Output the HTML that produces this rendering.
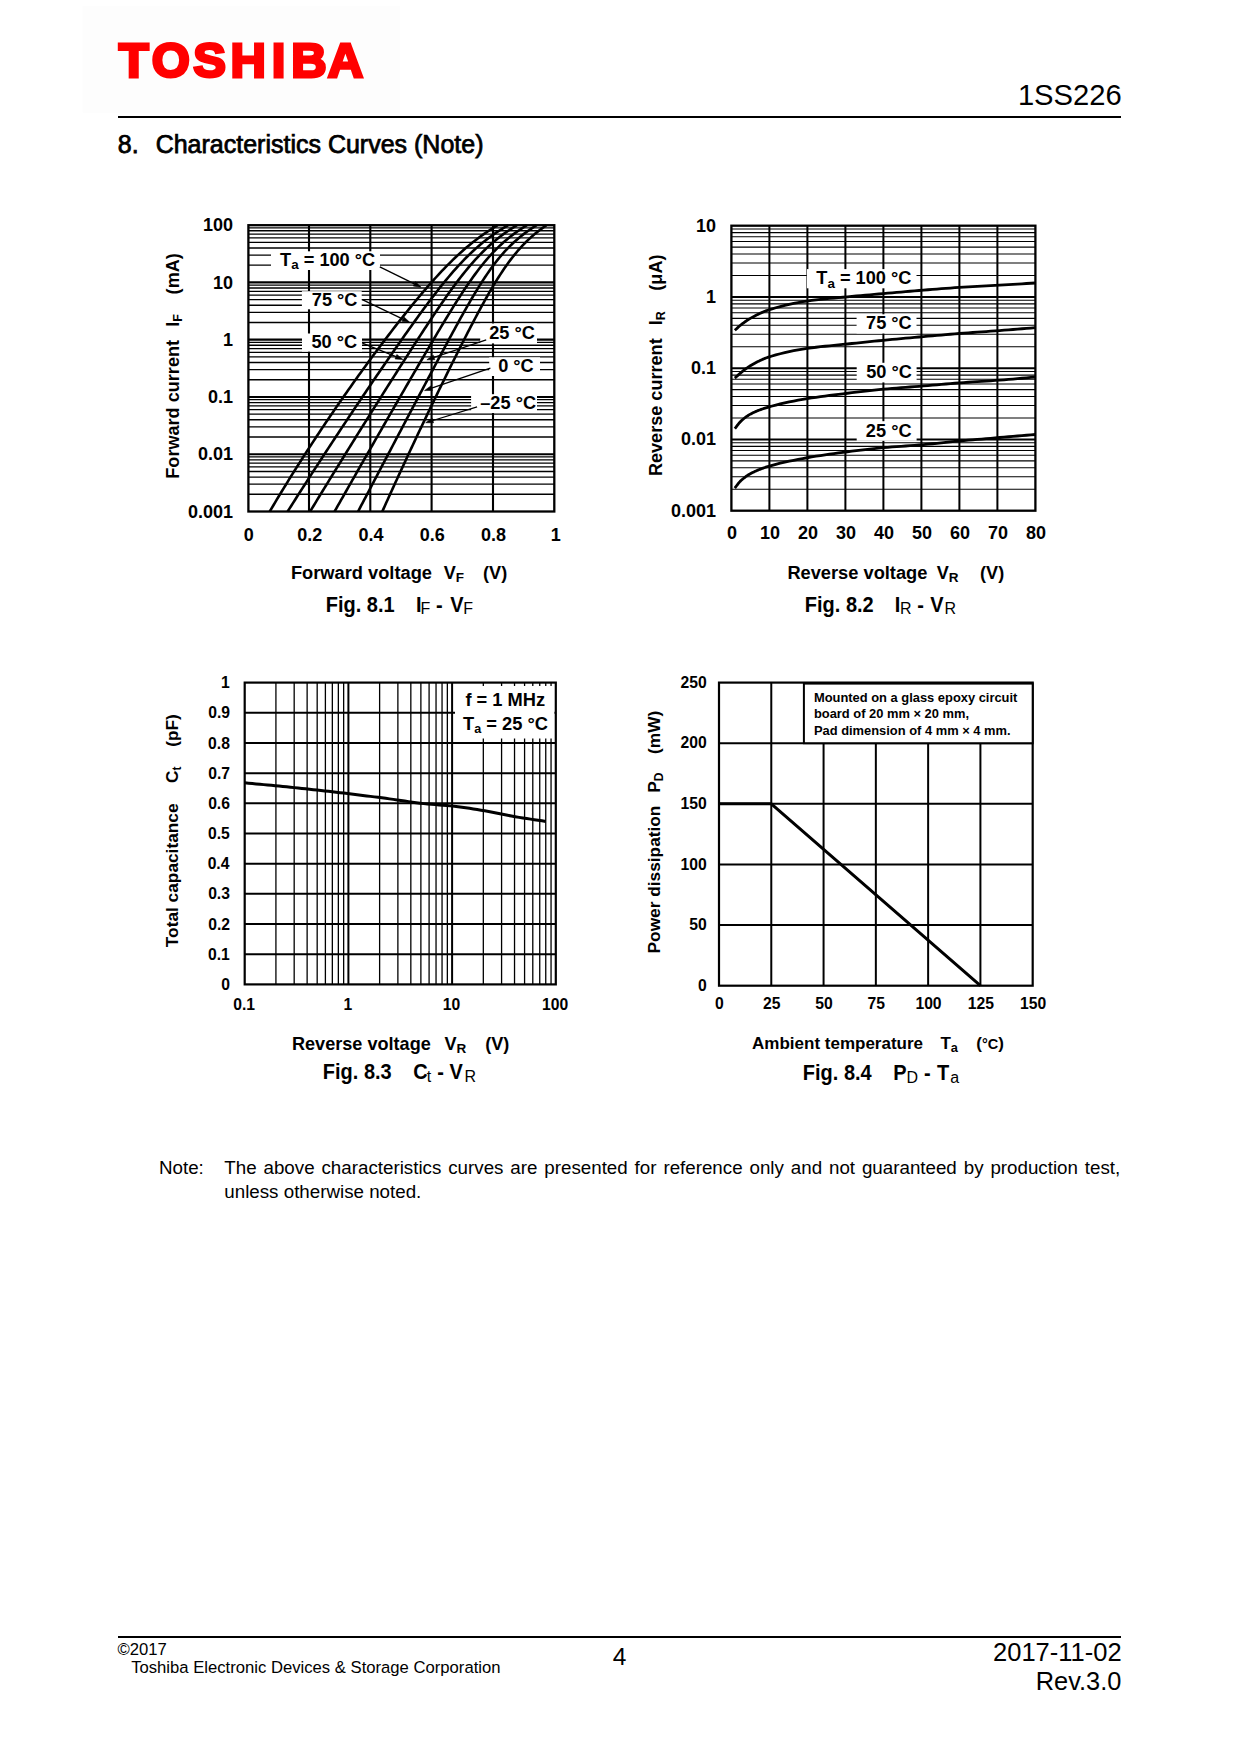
<!DOCTYPE html>
<html><head><meta charset="utf-8"><title>1SS226 - Characteristics Curves</title>
<style>
html,body{margin:0;padding:0;background:#fff;}
body{width:1240px;height:1754px;position:relative;overflow:hidden;}
svg{position:absolute;left:0;top:0;}
svg text{font-family:'Liberation Sans', Arial, sans-serif;}
.note{position:absolute;font-family:'Liberation Sans', Arial, sans-serif;font-size:18.75px;line-height:24.2px;color:#000;}
</style></head>
<body>
<svg width="1240" height="1754" viewBox="0 0 1240 1754">
<rect x="82.6" y="5.8" width="317.7" height="107" fill="#fdfdfd"/>
<text><tspan x="1017.88" y="104.80" font-size="29.17" font-weight="normal">1SS226</tspan></text>
<line x1="118.00" y1="117.00" x2="1121.00" y2="117.00" stroke="#000" stroke-width="2.0"/>
<text stroke="#000" stroke-width="0.75"><tspan x="117.81" y="152.60" font-size="25" font-weight="normal">8.</tspan></text>
<text stroke="#000" stroke-width="0.75"><tspan x="155.63" y="152.60" font-size="25" font-weight="normal">Characteristics Curves (Note)</tspan></text>
<line x1="118.00" y1="1637.00" x2="1121.00" y2="1637.00" stroke="#000" stroke-width="2.0"/>
<text><tspan x="117.45" y="1654.80" font-size="16.67" font-weight="normal">©2017</tspan></text>
<text><tspan x="131.13" y="1673.40" font-size="16.67" font-weight="normal">Toshiba Electronic Devices &amp; Storage Corporation</tspan></text>
<text><tspan x="612.64" y="1664.70" font-size="24.5" font-weight="normal">4</tspan></text>
<text><tspan x="993.04" y="1660.80" font-size="25.5" font-weight="normal">2017-11-02</tspan></text>
<text><tspan x="1035.76" y="1689.50" font-size="25.4" font-weight="normal">Rev.3.0</tspan></text>
<text fill="#ff0000" stroke="#ff0000" stroke-width="3" stroke-linejoin="miter"><tspan x="118.73" y="77.00" font-size="49.0" font-weight="bold">T</tspan></text>
<text fill="#ff0000" stroke="#ff0000" stroke-width="3" stroke-linejoin="miter"><tspan x="151.64" y="77.00" font-size="49.0" font-weight="bold">O</tspan></text>
<text fill="#ff0000" stroke="#ff0000" stroke-width="3" stroke-linejoin="miter"><tspan x="193.26" y="77.00" font-size="49.0" font-weight="bold">S</tspan></text>
<text fill="#ff0000" stroke="#ff0000" stroke-width="3" stroke-linejoin="miter"><tspan x="230.56" y="77.00" font-size="49.0" font-weight="bold">H</tspan></text>
<text fill="#ff0000" stroke="#ff0000" stroke-width="3" stroke-linejoin="miter"><tspan x="271.84" y="77.00" font-size="49.0" font-weight="bold">I</tspan></text>
<text fill="#ff0000" stroke="#ff0000" stroke-width="3" stroke-linejoin="miter"><tspan x="291.21" y="77.00" font-size="49.0" font-weight="bold">B</tspan></text>
<text fill="#ff0000" stroke="#ff0000" stroke-width="3" stroke-linejoin="miter"><tspan x="327.86" y="77.00" font-size="49.0" font-weight="bold">A</tspan></text>
<line x1="248.40" y1="494.26" x2="554.30" y2="494.26" stroke="#000" stroke-width="1.3"/>
<line x1="248.40" y1="484.18" x2="554.30" y2="484.18" stroke="#000" stroke-width="1.3"/>
<line x1="248.40" y1="477.03" x2="554.30" y2="477.03" stroke="#000" stroke-width="1.3"/>
<line x1="248.40" y1="471.48" x2="554.30" y2="471.48" stroke="#000" stroke-width="1.3"/>
<line x1="248.40" y1="466.94" x2="554.30" y2="466.94" stroke="#000" stroke-width="1.3"/>
<line x1="248.40" y1="463.11" x2="554.30" y2="463.11" stroke="#000" stroke-width="1.3"/>
<line x1="248.40" y1="459.79" x2="554.30" y2="459.79" stroke="#000" stroke-width="1.3"/>
<line x1="248.40" y1="456.86" x2="554.30" y2="456.86" stroke="#000" stroke-width="1.3"/>
<line x1="248.40" y1="437.00" x2="554.30" y2="437.00" stroke="#000" stroke-width="1.3"/>
<line x1="248.40" y1="426.92" x2="554.30" y2="426.92" stroke="#000" stroke-width="1.3"/>
<line x1="248.40" y1="419.77" x2="554.30" y2="419.77" stroke="#000" stroke-width="1.3"/>
<line x1="248.40" y1="414.22" x2="554.30" y2="414.22" stroke="#000" stroke-width="1.3"/>
<line x1="248.40" y1="409.68" x2="554.30" y2="409.68" stroke="#000" stroke-width="1.3"/>
<line x1="248.40" y1="405.85" x2="554.30" y2="405.85" stroke="#000" stroke-width="1.3"/>
<line x1="248.40" y1="402.53" x2="554.30" y2="402.53" stroke="#000" stroke-width="1.3"/>
<line x1="248.40" y1="399.60" x2="554.30" y2="399.60" stroke="#000" stroke-width="1.3"/>
<line x1="248.40" y1="379.74" x2="554.30" y2="379.74" stroke="#000" stroke-width="1.3"/>
<line x1="248.40" y1="369.66" x2="554.30" y2="369.66" stroke="#000" stroke-width="1.3"/>
<line x1="248.40" y1="362.51" x2="554.30" y2="362.51" stroke="#000" stroke-width="1.3"/>
<line x1="248.40" y1="356.96" x2="554.30" y2="356.96" stroke="#000" stroke-width="1.3"/>
<line x1="248.40" y1="352.42" x2="554.30" y2="352.42" stroke="#000" stroke-width="1.3"/>
<line x1="248.40" y1="348.59" x2="554.30" y2="348.59" stroke="#000" stroke-width="1.3"/>
<line x1="248.40" y1="345.27" x2="554.30" y2="345.27" stroke="#000" stroke-width="1.3"/>
<line x1="248.40" y1="342.34" x2="554.30" y2="342.34" stroke="#000" stroke-width="1.3"/>
<line x1="248.40" y1="322.48" x2="554.30" y2="322.48" stroke="#000" stroke-width="1.3"/>
<line x1="248.40" y1="312.40" x2="554.30" y2="312.40" stroke="#000" stroke-width="1.3"/>
<line x1="248.40" y1="305.25" x2="554.30" y2="305.25" stroke="#000" stroke-width="1.3"/>
<line x1="248.40" y1="299.70" x2="554.30" y2="299.70" stroke="#000" stroke-width="1.3"/>
<line x1="248.40" y1="295.16" x2="554.30" y2="295.16" stroke="#000" stroke-width="1.3"/>
<line x1="248.40" y1="291.33" x2="554.30" y2="291.33" stroke="#000" stroke-width="1.3"/>
<line x1="248.40" y1="288.01" x2="554.30" y2="288.01" stroke="#000" stroke-width="1.3"/>
<line x1="248.40" y1="285.08" x2="554.30" y2="285.08" stroke="#000" stroke-width="1.3"/>
<line x1="248.40" y1="265.22" x2="554.30" y2="265.22" stroke="#000" stroke-width="1.3"/>
<line x1="248.40" y1="255.14" x2="554.30" y2="255.14" stroke="#000" stroke-width="1.3"/>
<line x1="248.40" y1="247.99" x2="554.30" y2="247.99" stroke="#000" stroke-width="1.3"/>
<line x1="248.40" y1="242.44" x2="554.30" y2="242.44" stroke="#000" stroke-width="1.3"/>
<line x1="248.40" y1="237.90" x2="554.30" y2="237.90" stroke="#000" stroke-width="1.3"/>
<line x1="248.40" y1="234.07" x2="554.30" y2="234.07" stroke="#000" stroke-width="1.3"/>
<line x1="248.40" y1="230.75" x2="554.30" y2="230.75" stroke="#000" stroke-width="1.3"/>
<line x1="248.40" y1="227.82" x2="554.30" y2="227.82" stroke="#000" stroke-width="1.3"/>
<line x1="248.40" y1="454.24" x2="554.30" y2="454.24" stroke="#000" stroke-width="2.2"/>
<line x1="248.40" y1="396.98" x2="554.30" y2="396.98" stroke="#000" stroke-width="2.2"/>
<line x1="248.40" y1="339.72" x2="554.30" y2="339.72" stroke="#000" stroke-width="2.2"/>
<line x1="248.40" y1="282.46" x2="554.30" y2="282.46" stroke="#000" stroke-width="2.2"/>
<line x1="309.00" y1="225.20" x2="309.00" y2="511.50" stroke="#000" stroke-width="2.1"/>
<line x1="370.30" y1="225.20" x2="370.30" y2="511.50" stroke="#000" stroke-width="2.1"/>
<line x1="431.60" y1="225.20" x2="431.60" y2="511.50" stroke="#000" stroke-width="2.1"/>
<line x1="493.00" y1="225.20" x2="493.00" y2="511.50" stroke="#000" stroke-width="2.1"/>
<path d="M269.72,511.50 L271.43,508.61 L273.14,505.72 L274.87,502.82 L276.60,499.93 L278.34,497.04 L280.09,494.15 L281.84,491.26 L283.61,488.36 L285.38,485.47 L287.16,482.58 L288.94,479.69 L290.74,476.80 L292.54,473.91 L294.35,471.01 L296.17,468.12 L298.00,465.23 L299.83,462.34 L301.67,459.45 L303.52,456.55 L305.38,453.66 L307.25,450.77 L309.12,447.88 L311.00,444.99 L312.89,442.09 L314.79,439.20 L316.69,436.31 L318.61,433.42 L320.53,430.53 L322.45,427.63 L324.39,424.74 L326.34,421.85 L328.29,418.96 L330.25,416.07 L332.22,413.17 L334.20,410.28 L336.18,407.39 L338.17,404.50 L340.17,401.61 L342.18,398.72 L344.20,395.82 L346.22,392.93 L348.26,390.04 L350.30,387.15 L352.35,384.26 L354.41,381.36 L356.47,378.47 L358.55,375.58 L360.63,372.69 L362.72,369.80 L364.83,366.90 L366.94,364.01 L369.05,361.12 L371.18,358.23 L373.32,355.34 L375.46,352.44 L377.62,349.55 L379.78,346.66 L381.96,343.77 L384.15,340.88 L386.34,337.98 L388.55,335.09 L390.77,332.20 L393.00,329.31 L395.24,326.42 L397.49,323.53 L399.76,320.63 L402.04,317.74 L404.34,314.85 L406.65,311.96 L408.98,309.07 L411.32,306.17 L413.69,303.28 L416.07,300.39 L418.48,297.50 L420.91,294.61 L423.36,291.71 L425.84,288.82 L428.35,285.93 L430.90,283.04 L433.47,280.15 L436.09,277.25 L438.75,274.36 L441.46,271.47 L444.21,268.58 L447.03,265.69 L449.90,262.79 L452.85,259.90 L455.87,257.01 L458.98,254.12 L462.19,251.23 L465.50,248.34 L468.93,245.44 L472.49,242.55 L476.20,239.66 L480.07,236.77 L484.12,233.88 L488.39,230.98 L492.88,228.09 L497.63,225.20" fill="none" stroke="#000" stroke-width="2.6" stroke-linejoin="round" stroke-linecap="butt"/>
<path d="M287.63,511.50 L289.46,508.61 L291.30,505.72 L293.13,502.82 L294.97,499.93 L296.81,497.04 L298.66,494.15 L300.51,491.26 L302.36,488.36 L304.21,485.47 L306.07,482.58 L307.93,479.69 L309.79,476.80 L311.65,473.91 L313.52,471.01 L315.39,468.12 L317.27,465.23 L319.14,462.34 L321.02,459.45 L322.91,456.55 L324.79,453.66 L326.68,450.77 L328.57,447.88 L330.46,444.99 L332.36,442.09 L334.26,439.20 L336.17,436.31 L338.07,433.42 L339.98,430.53 L341.89,427.63 L343.81,424.74 L345.73,421.85 L347.65,418.96 L349.57,416.07 L351.50,413.17 L353.43,410.28 L355.36,407.39 L357.30,404.50 L359.24,401.61 L361.18,398.72 L363.13,395.82 L365.08,392.93 L367.03,390.04 L368.98,387.15 L370.94,384.26 L372.91,381.36 L374.87,378.47 L376.84,375.58 L378.82,372.69 L380.79,369.80 L382.77,366.90 L384.76,364.01 L386.75,361.12 L388.74,358.23 L390.74,355.34 L392.74,352.44 L394.75,349.55 L396.77,346.66 L398.79,343.77 L400.81,340.88 L402.84,337.98 L404.88,335.09 L406.92,332.20 L408.97,329.31 L411.03,326.42 L413.10,323.53 L415.18,320.63 L417.27,317.74 L419.37,314.85 L421.48,311.96 L423.61,309.07 L425.74,306.17 L427.90,303.28 L430.07,300.39 L432.27,297.50 L434.48,294.61 L436.72,291.71 L438.99,288.82 L441.28,285.93 L443.61,283.04 L445.97,280.15 L448.37,277.25 L450.82,274.36 L453.32,271.47 L455.88,268.58 L458.50,265.69 L461.18,262.79 L463.95,259.90 L466.80,257.01 L469.76,254.12 L472.82,251.23 L476.00,248.34 L479.33,245.44 L482.80,242.55 L486.45,239.66 L490.30,236.77 L494.36,233.88 L498.67,230.98 L503.25,228.09 L508.14,225.20" fill="none" stroke="#000" stroke-width="2.6" stroke-linejoin="round" stroke-linecap="butt"/>
<path d="M310.10,511.50 L311.86,508.61 L313.63,505.72 L315.39,502.82 L317.16,499.93 L318.92,497.04 L320.69,494.15 L322.46,491.26 L324.23,488.36 L326.01,485.47 L327.78,482.58 L329.56,479.69 L331.33,476.80 L333.11,473.91 L334.89,471.01 L336.67,468.12 L338.46,465.23 L340.24,462.34 L342.03,459.45 L343.81,456.55 L345.60,453.66 L347.39,450.77 L349.19,447.88 L350.98,444.99 L352.77,442.09 L354.57,439.20 L356.37,436.31 L358.17,433.42 L359.97,430.53 L361.77,427.63 L363.58,424.74 L365.38,421.85 L367.19,418.96 L369.00,416.07 L370.81,413.17 L372.62,410.28 L374.44,407.39 L376.25,404.50 L378.07,401.61 L379.89,398.72 L381.71,395.82 L383.53,392.93 L385.36,390.04 L387.18,387.15 L389.01,384.26 L390.84,381.36 L392.68,378.47 L394.51,375.58 L396.35,372.69 L398.19,369.80 L400.03,366.90 L401.88,364.01 L403.72,361.12 L405.57,358.23 L407.43,355.34 L409.28,352.44 L411.14,349.55 L413.01,346.66 L414.88,343.77 L416.75,340.88 L418.63,337.98 L420.51,335.09 L422.40,332.20 L424.29,329.31 L426.19,326.42 L428.10,323.53 L430.02,320.63 L431.94,317.74 L433.88,314.85 L435.82,311.96 L437.78,309.07 L439.75,306.17 L441.74,303.28 L443.74,300.39 L445.76,297.50 L447.80,294.61 L449.87,291.71 L451.95,288.82 L454.07,285.93 L456.22,283.04 L458.40,280.15 L460.62,277.25 L462.89,274.36 L465.21,271.47 L467.58,268.58 L470.01,265.69 L472.51,262.79 L475.09,259.90 L477.75,257.01 L480.52,254.12 L483.39,251.23 L486.38,248.34 L489.52,245.44 L492.80,242.55 L496.26,239.66 L499.91,236.77 L503.78,233.88 L507.90,230.98 L512.29,228.09 L516.98,225.20" fill="none" stroke="#000" stroke-width="2.6" stroke-linejoin="round" stroke-linecap="butt"/>
<path d="M334.58,511.50 L336.22,508.61 L337.86,505.72 L339.50,502.82 L341.14,499.93 L342.79,497.04 L344.43,494.15 L346.08,491.26 L347.72,488.36 L349.37,485.47 L351.01,482.58 L352.66,479.69 L354.31,476.80 L355.95,473.91 L357.60,471.01 L359.25,468.12 L360.90,465.23 L362.55,462.34 L364.20,459.45 L365.86,456.55 L367.51,453.66 L369.16,450.77 L370.82,447.88 L372.47,444.99 L374.13,442.09 L375.79,439.20 L377.44,436.31 L379.10,433.42 L380.76,430.53 L382.42,427.63 L384.08,424.74 L385.74,421.85 L387.40,418.96 L389.07,416.07 L390.73,413.17 L392.39,410.28 L394.06,407.39 L395.73,404.50 L397.39,401.61 L399.06,398.72 L400.73,395.82 L402.40,392.93 L404.07,390.04 L405.74,387.15 L407.42,384.26 L409.09,381.36 L410.77,378.47 L412.45,375.58 L414.13,372.69 L415.81,369.80 L417.49,366.90 L419.17,364.01 L420.86,361.12 L422.55,358.23 L424.24,355.34 L425.93,352.44 L427.63,349.55 L429.33,346.66 L431.03,343.77 L432.74,340.88 L434.45,337.98 L436.17,335.09 L437.89,332.20 L439.61,329.31 L441.34,326.42 L443.08,323.53 L444.83,320.63 L446.59,317.74 L448.35,314.85 L450.13,311.96 L451.91,309.07 L453.71,306.17 L455.53,303.28 L457.36,300.39 L459.21,297.50 L461.08,294.61 L462.97,291.71 L464.89,288.82 L466.84,285.93 L468.81,283.04 L470.83,280.15 L472.88,277.25 L474.99,274.36 L477.14,271.47 L479.35,268.58 L481.62,265.69 L483.96,262.79 L486.39,259.90 L488.90,257.01 L491.52,254.12 L494.25,251.23 L497.11,248.34 L500.11,245.44 L503.28,242.55 L506.62,239.66 L510.17,236.77 L513.94,233.88 L517.98,230.98 L522.30,228.09 L526.94,225.20" fill="none" stroke="#000" stroke-width="2.6" stroke-linejoin="round" stroke-linecap="butt"/>
<path d="M358.09,511.50 L359.61,508.61 L361.12,505.72 L362.64,502.82 L364.16,499.93 L365.68,497.04 L367.20,494.15 L368.72,491.26 L370.24,488.36 L371.76,485.47 L373.28,482.58 L374.80,479.69 L376.32,476.80 L377.84,473.91 L379.36,471.01 L380.88,468.12 L382.40,465.23 L383.92,462.34 L385.44,459.45 L386.96,456.55 L388.48,453.66 L390.01,450.77 L391.53,447.88 L393.05,444.99 L394.57,442.09 L396.09,439.20 L397.62,436.31 L399.14,433.42 L400.66,430.53 L402.19,427.63 L403.71,424.74 L405.24,421.85 L406.76,418.96 L408.29,416.07 L409.81,413.17 L411.34,410.28 L412.86,407.39 L414.39,404.50 L415.92,401.61 L417.44,398.72 L418.97,395.82 L420.50,392.93 L422.03,390.04 L423.56,387.15 L425.09,384.26 L426.62,381.36 L428.15,378.47 L429.68,375.58 L431.22,372.69 L432.75,369.80 L434.29,366.90 L435.83,364.01 L437.37,361.12 L438.91,358.23 L440.45,355.34 L442.00,352.44 L443.54,349.55 L445.09,346.66 L446.65,343.77 L448.20,340.88 L449.76,337.98 L451.33,335.09 L452.90,332.20 L454.47,329.31 L456.05,326.42 L457.64,323.53 L459.23,320.63 L460.84,317.74 L462.45,314.85 L464.07,311.96 L465.70,309.07 L467.35,306.17 L469.01,303.28 L470.68,300.39 L472.38,297.50 L474.10,294.61 L475.83,291.71 L477.60,288.82 L479.39,285.93 L481.22,283.04 L483.08,280.15 L484.98,277.25 L486.93,274.36 L488.93,271.47 L490.99,268.58 L493.11,265.69 L495.31,262.79 L497.59,259.90 L499.96,257.01 L502.43,254.12 L505.02,251.23 L507.74,248.34 L510.61,245.44 L513.65,242.55 L516.86,239.66 L520.29,236.77 L523.95,233.88 L527.87,230.98 L532.08,228.09 L536.63,225.20" fill="none" stroke="#000" stroke-width="2.6" stroke-linejoin="round" stroke-linecap="butt"/>
<path d="M382.31,511.50 L383.61,508.61 L384.91,505.72 L386.21,502.82 L387.52,499.93 L388.83,497.04 L390.14,494.15 L391.46,491.26 L392.77,488.36 L394.09,485.47 L395.41,482.58 L396.74,479.69 L398.07,476.80 L399.39,473.91 L400.73,471.01 L402.06,468.12 L403.40,465.23 L404.74,462.34 L406.08,459.45 L407.42,456.55 L408.77,453.66 L410.12,450.77 L411.47,447.88 L412.83,444.99 L414.19,442.09 L415.54,439.20 L416.91,436.31 L418.27,433.42 L419.64,430.53 L421.01,427.63 L422.38,424.74 L423.76,421.85 L425.14,418.96 L426.52,416.07 L427.90,413.17 L429.29,410.28 L430.67,407.39 L432.06,404.50 L433.46,401.61 L434.86,398.72 L436.26,395.82 L437.66,392.93 L439.06,390.04 L440.47,387.15 L441.88,384.26 L443.30,381.36 L444.71,378.47 L446.13,375.58 L447.56,372.69 L448.98,369.80 L450.41,366.90 L451.85,364.01 L453.29,361.12 L454.73,358.23 L456.17,355.34 L457.62,352.44 L459.08,349.55 L460.54,346.66 L462.00,343.77 L463.47,340.88 L464.94,337.98 L466.42,335.09 L467.91,332.20 L469.40,329.31 L470.90,326.42 L472.41,323.53 L473.93,320.63 L475.46,317.74 L476.99,314.85 L478.54,311.96 L480.10,309.07 L481.67,306.17 L483.26,303.28 L484.87,300.39 L486.49,297.50 L488.13,294.61 L489.79,291.71 L491.48,288.82 L493.20,285.93 L494.94,283.04 L496.72,280.15 L498.54,277.25 L500.39,274.36 L502.30,271.47 L504.25,268.58 L506.27,265.69 L508.34,262.79 L510.49,259.90 L512.73,257.01 L515.05,254.12 L517.47,251.23 L520.01,248.34 L522.67,245.44 L525.48,242.55 L528.45,239.66 L531.59,236.77 L534.94,233.88 L538.51,230.98 L542.34,228.09 L546.45,225.20" fill="none" stroke="#000" stroke-width="2.6" stroke-linejoin="round" stroke-linecap="butt"/>
<rect x="271.00" y="251.30" width="109.00" height="18.70" fill="#fff"/>
<rect x="301.90" y="291.20" width="59.80" height="18.10" fill="#fff"/>
<rect x="302.00" y="333.50" width="60.00" height="18.10" fill="#fff"/>
<rect x="480.20" y="323.50" width="56.80" height="19.90" fill="#fff"/>
<rect x="489.20" y="357.30" width="50.80" height="18.70" fill="#fff"/>
<rect x="471.10" y="394.20" width="65.90" height="18.80" fill="#fff"/>
<line x1="379.80" y1="266.90" x2="414.37" y2="283.89" stroke="#000" stroke-width="1.3"/><path d="M413.31,286.05 L421.10,287.20 L415.43,281.74 Z" fill="#000" stroke="#000" stroke-width="0.6" stroke-linejoin="miter"/>
<line x1="362.30" y1="299.70" x2="402.93" y2="319.07" stroke="#000" stroke-width="1.3"/><path d="M401.90,321.24 L409.70,322.30 L403.96,316.91 Z" fill="#000" stroke="#000" stroke-width="0.6" stroke-linejoin="miter"/>
<line x1="362.30" y1="343.10" x2="395.95" y2="356.69" stroke="#000" stroke-width="1.3"/><path d="M395.05,358.92 L402.90,359.50 L396.84,354.47 Z" fill="#000" stroke="#000" stroke-width="0.6" stroke-linejoin="miter"/>
<line x1="486.20" y1="339.80" x2="434.01" y2="357.40" stroke="#000" stroke-width="1.3"/><path d="M433.24,355.13 L426.90,359.80 L434.77,359.68 Z" fill="#000" stroke="#000" stroke-width="0.6" stroke-linejoin="miter"/>
<line x1="490.40" y1="368.20" x2="431.60" y2="388.19" stroke="#000" stroke-width="1.3"/><path d="M430.83,385.91 L424.50,390.60 L432.37,390.46 Z" fill="#000" stroke="#000" stroke-width="0.6" stroke-linejoin="miter"/>
<line x1="477.10" y1="406.90" x2="432.87" y2="420.50" stroke="#000" stroke-width="1.3"/><path d="M432.16,418.20 L425.70,422.70 L433.57,422.79 Z" fill="#000" stroke="#000" stroke-width="0.6" stroke-linejoin="miter"/>
<rect x="248.40" y="225.20" width="305.90" height="286.30" fill="none" stroke="#000" stroke-width="2.3"/>
<text><tspan x="280.10" y="265.80" font-size="18.2" font-weight="bold">T</tspan><tspan x="291.21" y="269.20" font-size="13.4" font-weight="bold">a</tspan><tspan x="298.67" y="265.80" font-size="18.2" font-weight="bold"> = 100 °C</tspan></text>
<text><tspan x="311.82" y="305.50" font-size="18.2" font-weight="bold">75 °C</tspan></text>
<text><tspan x="311.44" y="347.70" font-size="18.2" font-weight="bold">50 °C</tspan></text>
<text><tspan x="489.17" y="338.60" font-size="18.2" font-weight="bold">25 °C</tspan></text>
<text><tspan x="498.18" y="371.90" font-size="18.2" font-weight="bold">0 °C</tspan></text>
<text><tspan x="480.25" y="408.70" font-size="18.2" font-weight="bold">–25 °C</tspan></text>
<text transform="translate(233.10,231.30) scale(1.0,1.02) translate(-233.10,-231.30)"><tspan x="203.07" y="231.30" font-size="18.0" font-weight="bold">100</tspan></text>
<text transform="translate(233.10,288.56) scale(1.0,1.02) translate(-233.10,-288.56)"><tspan x="213.08" y="288.56" font-size="18.0" font-weight="bold">10</tspan></text>
<text transform="translate(233.10,345.82) scale(1.0,1.02) translate(-233.10,-345.82)"><tspan x="223.09" y="345.82" font-size="18.0" font-weight="bold">1</tspan></text>
<text transform="translate(233.10,403.08) scale(1.0,1.02) translate(-233.10,-403.08)"><tspan x="208.08" y="403.08" font-size="18.0" font-weight="bold">0.1</tspan></text>
<text transform="translate(233.10,460.34) scale(1.0,1.02) translate(-233.10,-460.34)"><tspan x="198.07" y="460.34" font-size="18.0" font-weight="bold">0.01</tspan></text>
<text transform="translate(233.10,517.60) scale(1.0,1.02) translate(-233.10,-517.60)"><tspan x="188.06" y="517.60" font-size="18.0" font-weight="bold">0.001</tspan></text>
<text transform="translate(248.70,540.60) scale(1.0,1.02) translate(-248.70,-540.60)"><tspan x="243.69" y="540.60" font-size="18.0" font-weight="bold">0</tspan></text>
<text transform="translate(309.88,540.60) scale(1.0,1.02) translate(-309.88,-540.60)"><tspan x="297.37" y="540.60" font-size="18.0" font-weight="bold">0.2</tspan></text>
<text transform="translate(371.06,540.60) scale(1.0,1.02) translate(-371.06,-540.60)"><tspan x="358.55" y="540.60" font-size="18.0" font-weight="bold">0.4</tspan></text>
<text transform="translate(432.24,540.60) scale(1.0,1.02) translate(-432.24,-540.60)"><tspan x="419.73" y="540.60" font-size="18.0" font-weight="bold">0.6</tspan></text>
<text transform="translate(493.42,540.60) scale(1.0,1.02) translate(-493.42,-540.60)"><tspan x="480.91" y="540.60" font-size="18.0" font-weight="bold">0.8</tspan></text>
<text transform="translate(555.80,540.60) scale(1.0,1.02) translate(-555.80,-540.60)"><tspan x="550.79" y="540.60" font-size="18.0" font-weight="bold">1</tspan></text>
<text><tspan x="290.98" y="578.80" font-size="18.25" font-weight="bold">Forward voltage</tspan></text>
<text><tspan x="443.78" y="578.80" font-size="18.1" font-weight="bold">V</tspan><tspan x="455.85" y="581.80" font-size="13.5" font-weight="bold">F</tspan></text>
<text><tspan x="483.10" y="578.80" font-size="18.1" font-weight="bold">(V)</tspan></text>
<text transform="translate(178.60,477.50) rotate(-90)"><tspan x="-1.21" y="0.00" font-size="18.1" font-weight="bold">Forward current</tspan></text>
<text transform="translate(178.60,325.60) rotate(-90)"><tspan x="-1.21" y="0.00" font-size="18.1" font-weight="bold">I</tspan><tspan x="3.82" y="3.00" font-size="12.5" font-weight="bold">F</tspan></text>
<text transform="translate(178.60,293.50) rotate(-90)"><tspan x="-0.90" y="0.00" font-size="18.1" font-weight="bold">(mA)</tspan></text>
<line x1="731.40" y1="489.25" x2="1035.40" y2="489.25" stroke="#000" stroke-width="1.1"/>
<line x1="731.40" y1="476.71" x2="1035.40" y2="476.71" stroke="#000" stroke-width="1.1"/>
<line x1="731.40" y1="467.80" x2="1035.40" y2="467.80" stroke="#000" stroke-width="1.1"/>
<line x1="731.40" y1="460.90" x2="1035.40" y2="460.90" stroke="#000" stroke-width="1.1"/>
<line x1="731.40" y1="455.26" x2="1035.40" y2="455.26" stroke="#000" stroke-width="1.1"/>
<line x1="731.40" y1="450.49" x2="1035.40" y2="450.49" stroke="#000" stroke-width="1.1"/>
<line x1="731.40" y1="446.35" x2="1035.40" y2="446.35" stroke="#000" stroke-width="1.1"/>
<line x1="731.40" y1="442.71" x2="1035.40" y2="442.71" stroke="#000" stroke-width="1.1"/>
<line x1="731.40" y1="418.00" x2="1035.40" y2="418.00" stroke="#000" stroke-width="1.1"/>
<line x1="731.40" y1="405.46" x2="1035.40" y2="405.46" stroke="#000" stroke-width="1.1"/>
<line x1="731.40" y1="396.55" x2="1035.40" y2="396.55" stroke="#000" stroke-width="1.1"/>
<line x1="731.40" y1="389.65" x2="1035.40" y2="389.65" stroke="#000" stroke-width="1.1"/>
<line x1="731.40" y1="384.01" x2="1035.40" y2="384.01" stroke="#000" stroke-width="1.1"/>
<line x1="731.40" y1="379.24" x2="1035.40" y2="379.24" stroke="#000" stroke-width="1.1"/>
<line x1="731.40" y1="375.10" x2="1035.40" y2="375.10" stroke="#000" stroke-width="1.1"/>
<line x1="731.40" y1="371.46" x2="1035.40" y2="371.46" stroke="#000" stroke-width="1.1"/>
<line x1="731.40" y1="346.75" x2="1035.40" y2="346.75" stroke="#000" stroke-width="1.1"/>
<line x1="731.40" y1="334.21" x2="1035.40" y2="334.21" stroke="#000" stroke-width="1.1"/>
<line x1="731.40" y1="325.30" x2="1035.40" y2="325.30" stroke="#000" stroke-width="1.1"/>
<line x1="731.40" y1="318.40" x2="1035.40" y2="318.40" stroke="#000" stroke-width="1.1"/>
<line x1="731.40" y1="312.76" x2="1035.40" y2="312.76" stroke="#000" stroke-width="1.1"/>
<line x1="731.40" y1="307.99" x2="1035.40" y2="307.99" stroke="#000" stroke-width="1.1"/>
<line x1="731.40" y1="303.85" x2="1035.40" y2="303.85" stroke="#000" stroke-width="1.1"/>
<line x1="731.40" y1="300.21" x2="1035.40" y2="300.21" stroke="#000" stroke-width="1.1"/>
<line x1="731.40" y1="275.50" x2="1035.40" y2="275.50" stroke="#000" stroke-width="1.1"/>
<line x1="731.40" y1="262.96" x2="1035.40" y2="262.96" stroke="#000" stroke-width="1.1"/>
<line x1="731.40" y1="254.05" x2="1035.40" y2="254.05" stroke="#000" stroke-width="1.1"/>
<line x1="731.40" y1="247.15" x2="1035.40" y2="247.15" stroke="#000" stroke-width="1.1"/>
<line x1="731.40" y1="241.51" x2="1035.40" y2="241.51" stroke="#000" stroke-width="1.1"/>
<line x1="731.40" y1="236.74" x2="1035.40" y2="236.74" stroke="#000" stroke-width="1.1"/>
<line x1="731.40" y1="232.60" x2="1035.40" y2="232.60" stroke="#000" stroke-width="1.1"/>
<line x1="731.40" y1="228.96" x2="1035.40" y2="228.96" stroke="#000" stroke-width="1.1"/>
<line x1="731.40" y1="439.45" x2="1035.40" y2="439.45" stroke="#000" stroke-width="2.0"/>
<line x1="731.40" y1="368.20" x2="1035.40" y2="368.20" stroke="#000" stroke-width="2.0"/>
<line x1="731.40" y1="296.95" x2="1035.40" y2="296.95" stroke="#000" stroke-width="2.0"/>
<line x1="769.40" y1="225.70" x2="769.40" y2="510.70" stroke="#000" stroke-width="2.0"/>
<line x1="807.40" y1="225.70" x2="807.40" y2="510.70" stroke="#000" stroke-width="2.0"/>
<line x1="845.40" y1="225.70" x2="845.40" y2="510.70" stroke="#000" stroke-width="2.0"/>
<line x1="883.40" y1="225.70" x2="883.40" y2="510.70" stroke="#000" stroke-width="2.0"/>
<line x1="921.40" y1="225.70" x2="921.40" y2="510.70" stroke="#000" stroke-width="2.0"/>
<line x1="959.40" y1="225.70" x2="959.40" y2="510.70" stroke="#000" stroke-width="2.0"/>
<line x1="997.40" y1="225.70" x2="997.40" y2="510.70" stroke="#000" stroke-width="2.0"/>
<path d="M734.82,330.30 L735.71,329.49 L736.59,328.67 L737.48,327.85 L738.37,327.04 L739.25,326.25 L740.14,325.51 L741.03,324.80 L741.91,324.11 L742.80,323.43 L743.69,322.77 L744.57,322.12 L745.46,321.49 L746.35,320.87 L747.23,320.27 L748.12,319.69 L749.01,319.14 L749.89,318.61 L750.78,318.10 L751.67,317.61 L752.55,317.12 L753.44,316.65 L754.33,316.18 L755.21,315.72 L756.10,315.26 L756.99,314.82 L757.87,314.38 L758.76,313.96 L759.65,313.54 L760.53,313.13 L761.42,312.74 L762.31,312.35 L763.19,311.98 L764.08,311.62 L764.97,311.27 L765.85,310.93 L766.74,310.60 L767.63,310.29 L768.51,309.99 L769.40,309.70 L771.30,309.11 L775.78,307.78 L780.25,306.55 L784.73,305.41 L789.21,304.35 L793.68,303.39 L798.16,302.52 L802.63,301.74 L807.11,301.04 L811.59,300.43 L816.06,299.87 L820.54,299.37 L825.02,298.91 L829.49,298.48 L833.97,298.06 L838.44,297.65 L842.92,297.24 L847.40,296.81 L851.87,296.39 L856.35,295.98 L860.83,295.58 L865.30,295.18 L869.78,294.79 L874.25,294.40 L878.73,294.01 L883.21,293.62 L887.68,293.22 L892.16,292.82 L896.64,292.43 L901.11,292.03 L905.59,291.64 L910.06,291.25 L914.54,290.87 L919.02,290.50 L923.49,290.13 L927.97,289.77 L932.45,289.41 L936.92,289.05 L941.40,288.70 L945.87,288.36 L950.35,288.03 L954.83,287.71 L959.30,287.41 L963.78,287.12 L968.26,286.85 L972.73,286.58 L977.21,286.33 L981.68,286.08 L986.16,285.83 L990.64,285.58 L995.11,285.33 L999.59,285.07 L1004.07,284.81 L1008.54,284.55 L1013.02,284.30 L1017.49,284.04 L1021.97,283.78 L1026.45,283.52 L1030.92,283.26 L1035.40,283.00" fill="none" stroke="#000" stroke-width="2.8" stroke-linejoin="round" stroke-linecap="butt"/>
<path d="M734.82,378.10 L735.71,377.30 L736.59,376.48 L737.48,375.67 L738.37,374.86 L739.25,374.07 L740.14,373.31 L741.03,372.59 L741.91,371.87 L742.80,371.16 L743.69,370.46 L744.57,369.77 L745.46,369.10 L746.35,368.44 L747.23,367.80 L748.12,367.19 L749.01,366.60 L749.89,366.03 L750.78,365.50 L751.67,364.99 L752.55,364.48 L753.44,363.98 L754.33,363.49 L755.21,363.01 L756.10,362.53 L756.99,362.07 L757.87,361.61 L758.76,361.17 L759.65,360.74 L760.53,360.31 L761.42,359.90 L762.31,359.50 L763.19,359.12 L764.08,358.74 L764.97,358.38 L765.85,358.04 L766.74,357.70 L767.63,357.39 L768.51,357.09 L769.40,356.80 L771.30,356.22 L775.78,354.92 L780.25,353.73 L784.73,352.64 L789.21,351.64 L793.68,350.73 L798.16,349.90 L802.63,349.14 L807.11,348.44 L811.59,347.81 L816.06,347.25 L820.54,346.73 L825.02,346.25 L829.49,345.79 L833.97,345.35 L838.44,344.91 L842.92,344.46 L847.40,343.99 L851.87,343.51 L856.35,343.04 L860.83,342.58 L865.30,342.11 L869.78,341.66 L874.25,341.20 L878.73,340.76 L883.21,340.32 L887.68,339.89 L892.16,339.46 L896.64,339.04 L901.11,338.63 L905.59,338.22 L910.06,337.82 L914.54,337.41 L919.02,337.01 L923.49,336.61 L927.97,336.21 L932.45,335.81 L936.92,335.41 L941.40,335.02 L945.87,334.63 L950.35,334.24 L954.83,333.87 L959.30,333.51 L963.78,333.16 L968.26,332.82 L972.73,332.49 L977.21,332.17 L981.68,331.85 L986.16,331.53 L990.64,331.20 L995.11,330.87 L999.59,330.53 L1004.07,330.19 L1008.54,329.84 L1013.02,329.48 L1017.49,329.13 L1021.97,328.77 L1026.45,328.41 L1030.92,328.05 L1035.40,327.70" fill="none" stroke="#000" stroke-width="2.8" stroke-linejoin="round" stroke-linecap="butt"/>
<path d="M734.82,428.70 L735.71,427.56 L736.59,426.38 L737.48,425.20 L738.37,424.04 L739.25,422.96 L740.14,421.98 L741.03,421.12 L741.91,420.30 L742.80,419.51 L743.69,418.75 L744.57,418.03 L745.46,417.33 L746.35,416.67 L747.23,416.05 L748.12,415.46 L749.01,414.90 L749.89,414.38 L750.78,413.90 L751.67,413.44 L752.55,413.00 L753.44,412.58 L754.33,412.17 L755.21,411.77 L756.10,411.38 L756.99,411.01 L757.87,410.65 L758.76,410.30 L759.65,409.96 L760.53,409.63 L761.42,409.32 L762.31,409.01 L763.19,408.71 L764.08,408.41 L764.97,408.13 L765.85,407.85 L766.74,407.58 L767.63,407.31 L768.51,407.05 L769.40,406.80 L771.30,406.27 L775.78,405.08 L780.25,403.97 L784.73,402.93 L789.21,401.97 L793.68,401.06 L798.16,400.21 L802.63,399.41 L807.11,398.65 L811.59,397.93 L816.06,397.26 L820.54,396.63 L825.02,396.03 L829.49,395.45 L833.97,394.90 L838.44,394.35 L842.92,393.80 L847.40,393.25 L851.87,392.71 L856.35,392.17 L860.83,391.63 L865.30,391.11 L869.78,390.61 L874.25,390.12 L878.73,389.66 L883.21,389.22 L887.68,388.81 L892.16,388.42 L896.64,388.05 L901.11,387.69 L905.59,387.35 L910.06,387.00 L914.54,386.65 L919.02,386.30 L923.49,385.93 L927.97,385.54 L932.45,385.16 L936.92,384.77 L941.40,384.38 L945.87,383.99 L950.35,383.62 L954.83,383.25 L959.30,382.91 L963.78,382.58 L968.26,382.27 L972.73,381.97 L977.21,381.68 L981.68,381.39 L986.16,381.09 L990.64,380.79 L995.11,380.47 L999.59,380.13 L1004.07,379.78 L1008.54,379.41 L1013.02,379.03 L1017.49,378.65 L1021.97,378.26 L1026.45,377.87 L1030.92,377.48 L1035.40,377.10" fill="none" stroke="#000" stroke-width="2.8" stroke-linejoin="round" stroke-linecap="butt"/>
<path d="M734.82,488.10 L735.71,486.96 L736.59,485.78 L737.48,484.59 L738.37,483.43 L739.25,482.35 L740.14,481.37 L741.03,480.53 L741.91,479.73 L742.80,478.96 L743.69,478.23 L744.57,477.53 L745.46,476.86 L746.35,476.22 L747.23,475.62 L748.12,475.04 L749.01,474.50 L749.89,473.98 L750.78,473.50 L751.67,473.04 L752.55,472.59 L753.44,472.15 L754.33,471.73 L755.21,471.31 L756.10,470.91 L756.99,470.52 L757.87,470.15 L758.76,469.78 L759.65,469.42 L760.53,469.08 L761.42,468.74 L762.31,468.42 L763.19,468.10 L764.08,467.79 L764.97,467.49 L765.85,467.20 L766.74,466.91 L767.63,466.63 L768.51,466.36 L769.40,466.10 L771.30,465.55 L775.78,464.33 L780.25,463.21 L784.73,462.16 L789.21,461.18 L793.68,460.27 L798.16,459.40 L802.63,458.56 L807.11,457.75 L811.59,456.97 L816.06,456.22 L820.54,455.51 L825.02,454.82 L829.49,454.16 L833.97,453.53 L838.44,452.92 L842.92,452.32 L847.40,451.74 L851.87,451.18 L856.35,450.62 L860.83,450.09 L865.30,449.57 L869.78,449.07 L874.25,448.59 L878.73,448.14 L883.21,447.72 L887.68,447.33 L892.16,446.97 L896.64,446.64 L901.11,446.32 L905.59,446.00 L910.06,445.69 L914.54,445.36 L919.02,445.00 L923.49,444.62 L927.97,444.20 L932.45,443.75 L936.92,443.29 L941.40,442.83 L945.87,442.35 L950.35,441.89 L954.83,441.44 L959.30,441.01 L963.78,440.60 L968.26,440.20 L972.73,439.80 L977.21,439.42 L981.68,439.03 L986.16,438.65 L990.64,438.28 L995.11,437.90 L999.59,437.51 L1004.07,437.13 L1008.54,436.75 L1013.02,436.38 L1017.49,436.00 L1021.97,435.63 L1026.45,435.25 L1030.92,434.88 L1035.40,434.50" fill="none" stroke="#000" stroke-width="2.8" stroke-linejoin="round" stroke-linecap="butt"/>
<rect x="806.90" y="269.10" width="109.60" height="19.20" fill="#fff"/>
<rect x="856.60" y="314.30" width="59.90" height="19.20" fill="#fff"/>
<rect x="856.70" y="362.80" width="59.90" height="19.60" fill="#fff"/>
<rect x="856.70" y="421.20" width="59.90" height="19.60" fill="#fff"/>
<rect x="731.40" y="225.70" width="304.00" height="285.00" fill="none" stroke="#000" stroke-width="2.3"/>
<text><tspan x="816.30" y="284.10" font-size="18.2" font-weight="bold">T</tspan><tspan x="827.41" y="287.50" font-size="13.4" font-weight="bold">a</tspan><tspan x="834.87" y="284.10" font-size="18.2" font-weight="bold"> = 100 °C</tspan></text>
<text><tspan x="866.02" y="329.30" font-size="18.2" font-weight="bold">75 °C</tspan></text>
<text><tspan x="866.14" y="378.00" font-size="18.2" font-weight="bold">50 °C</tspan></text>
<text><tspan x="865.87" y="436.60" font-size="18.2" font-weight="bold">25 °C</tspan></text>
<text transform="translate(716.00,231.70) scale(1.0,1.02) translate(-716.00,-231.70)"><tspan x="695.98" y="231.70" font-size="18.0" font-weight="bold">10</tspan></text>
<text transform="translate(716.00,302.95) scale(1.0,1.02) translate(-716.00,-302.95)"><tspan x="705.99" y="302.95" font-size="18.0" font-weight="bold">1</tspan></text>
<text transform="translate(716.00,374.20) scale(1.0,1.02) translate(-716.00,-374.20)"><tspan x="690.98" y="374.20" font-size="18.0" font-weight="bold">0.1</tspan></text>
<text transform="translate(716.00,445.45) scale(1.0,1.02) translate(-716.00,-445.45)"><tspan x="680.97" y="445.45" font-size="18.0" font-weight="bold">0.01</tspan></text>
<text transform="translate(716.00,516.70) scale(1.0,1.02) translate(-716.00,-516.70)"><tspan x="670.96" y="516.70" font-size="18.0" font-weight="bold">0.001</tspan></text>
<text transform="translate(732.00,538.70) scale(1.0,1.02) translate(-732.00,-538.70)"><tspan x="726.99" y="538.70" font-size="18.0" font-weight="bold">0</tspan></text>
<text transform="translate(770.00,538.70) scale(1.0,1.02) translate(-770.00,-538.70)"><tspan x="759.99" y="538.70" font-size="18.0" font-weight="bold">10</tspan></text>
<text transform="translate(808.00,538.70) scale(1.0,1.02) translate(-808.00,-538.70)"><tspan x="797.99" y="538.70" font-size="18.0" font-weight="bold">20</tspan></text>
<text transform="translate(846.00,538.70) scale(1.0,1.02) translate(-846.00,-538.70)"><tspan x="835.99" y="538.70" font-size="18.0" font-weight="bold">30</tspan></text>
<text transform="translate(884.00,538.70) scale(1.0,1.02) translate(-884.00,-538.70)"><tspan x="873.99" y="538.70" font-size="18.0" font-weight="bold">40</tspan></text>
<text transform="translate(922.00,538.70) scale(1.0,1.02) translate(-922.00,-538.70)"><tspan x="911.99" y="538.70" font-size="18.0" font-weight="bold">50</tspan></text>
<text transform="translate(960.00,538.70) scale(1.0,1.02) translate(-960.00,-538.70)"><tspan x="949.99" y="538.70" font-size="18.0" font-weight="bold">60</tspan></text>
<text transform="translate(998.00,538.70) scale(1.0,1.02) translate(-998.00,-538.70)"><tspan x="987.99" y="538.70" font-size="18.0" font-weight="bold">70</tspan></text>
<text transform="translate(1036.00,538.70) scale(1.0,1.02) translate(-1036.00,-538.70)"><tspan x="1025.99" y="538.70" font-size="18.0" font-weight="bold">80</tspan></text>
<text><tspan x="787.38" y="578.80" font-size="18.25" font-weight="bold">Reverse voltage</tspan></text>
<text><tspan x="936.78" y="578.80" font-size="18.1" font-weight="bold">V</tspan><tspan x="948.85" y="581.80" font-size="13.5" font-weight="bold">R</tspan></text>
<text><tspan x="980.10" y="578.80" font-size="18.1" font-weight="bold">(V)</tspan></text>
<text transform="translate(662.10,474.90) rotate(-90)"><tspan x="-1.21" y="0.00" font-size="18.1" font-weight="bold">Reverse current</tspan></text>
<text transform="translate(662.10,324.00) rotate(-90)"><tspan x="-1.21" y="0.00" font-size="18.1" font-weight="bold">I</tspan><tspan x="3.82" y="3.00" font-size="12.5" font-weight="bold">R</tspan></text>
<text transform="translate(662.10,289.80) rotate(-90)"><tspan x="-0.90" y="0.00" font-size="18.1" font-weight="bold">(μA)</tspan></text>
<line x1="275.92" y1="682.60" x2="275.92" y2="984.40" stroke="#000" stroke-width="1.3"/>
<line x1="294.18" y1="682.60" x2="294.18" y2="984.40" stroke="#000" stroke-width="1.3"/>
<line x1="307.13" y1="682.60" x2="307.13" y2="984.40" stroke="#000" stroke-width="1.3"/>
<line x1="317.18" y1="682.60" x2="317.18" y2="984.40" stroke="#000" stroke-width="1.3"/>
<line x1="325.39" y1="682.60" x2="325.39" y2="984.40" stroke="#000" stroke-width="1.3"/>
<line x1="332.34" y1="682.60" x2="332.34" y2="984.40" stroke="#000" stroke-width="1.3"/>
<line x1="338.35" y1="682.60" x2="338.35" y2="984.40" stroke="#000" stroke-width="1.3"/>
<line x1="343.65" y1="682.60" x2="343.65" y2="984.40" stroke="#000" stroke-width="1.3"/>
<line x1="379.62" y1="682.60" x2="379.62" y2="984.40" stroke="#000" stroke-width="1.3"/>
<line x1="397.88" y1="682.60" x2="397.88" y2="984.40" stroke="#000" stroke-width="1.3"/>
<line x1="410.83" y1="682.60" x2="410.83" y2="984.40" stroke="#000" stroke-width="1.3"/>
<line x1="420.88" y1="682.60" x2="420.88" y2="984.40" stroke="#000" stroke-width="1.3"/>
<line x1="429.09" y1="682.60" x2="429.09" y2="984.40" stroke="#000" stroke-width="1.3"/>
<line x1="436.04" y1="682.60" x2="436.04" y2="984.40" stroke="#000" stroke-width="1.3"/>
<line x1="442.05" y1="682.60" x2="442.05" y2="984.40" stroke="#000" stroke-width="1.3"/>
<line x1="447.35" y1="682.60" x2="447.35" y2="984.40" stroke="#000" stroke-width="1.3"/>
<line x1="483.32" y1="682.60" x2="483.32" y2="984.40" stroke="#000" stroke-width="1.3"/>
<line x1="501.58" y1="682.60" x2="501.58" y2="984.40" stroke="#000" stroke-width="1.3"/>
<line x1="514.53" y1="682.60" x2="514.53" y2="984.40" stroke="#000" stroke-width="1.3"/>
<line x1="524.58" y1="682.60" x2="524.58" y2="984.40" stroke="#000" stroke-width="1.3"/>
<line x1="532.79" y1="682.60" x2="532.79" y2="984.40" stroke="#000" stroke-width="1.3"/>
<line x1="539.74" y1="682.60" x2="539.74" y2="984.40" stroke="#000" stroke-width="1.3"/>
<line x1="545.75" y1="682.60" x2="545.75" y2="984.40" stroke="#000" stroke-width="1.3"/>
<line x1="551.05" y1="682.60" x2="551.05" y2="984.40" stroke="#000" stroke-width="1.3"/>
<line x1="348.40" y1="682.60" x2="348.40" y2="984.40" stroke="#000" stroke-width="2.0"/>
<line x1="452.10" y1="682.60" x2="452.10" y2="984.40" stroke="#000" stroke-width="2.0"/>
<line x1="244.70" y1="954.22" x2="555.80" y2="954.22" stroke="#000" stroke-width="2.0"/>
<line x1="244.70" y1="924.04" x2="555.80" y2="924.04" stroke="#000" stroke-width="2.0"/>
<line x1="244.70" y1="893.86" x2="555.80" y2="893.86" stroke="#000" stroke-width="2.0"/>
<line x1="244.70" y1="863.68" x2="555.80" y2="863.68" stroke="#000" stroke-width="2.0"/>
<line x1="244.70" y1="833.50" x2="555.80" y2="833.50" stroke="#000" stroke-width="2.0"/>
<line x1="244.70" y1="803.32" x2="555.80" y2="803.32" stroke="#000" stroke-width="2.0"/>
<line x1="244.70" y1="773.14" x2="555.80" y2="773.14" stroke="#000" stroke-width="2.0"/>
<line x1="244.70" y1="742.96" x2="555.80" y2="742.96" stroke="#000" stroke-width="2.0"/>
<line x1="244.70" y1="712.78" x2="555.80" y2="712.78" stroke="#000" stroke-width="2.0"/>
<path d="M244.70,782.80 L248.51,783.17 L252.32,783.54 L256.13,783.90 L259.94,784.26 L263.75,784.63 L267.56,784.99 L271.38,785.36 L275.19,785.73 L279.00,786.10 L282.81,786.47 L286.62,786.85 L290.43,787.24 L294.24,787.63 L298.05,788.03 L301.86,788.43 L305.67,788.84 L309.48,789.25 L313.29,789.66 L317.10,790.08 L320.92,790.50 L324.73,790.92 L328.54,791.35 L332.35,791.79 L336.16,792.23 L339.97,792.67 L343.78,793.11 L347.59,793.57 L351.40,794.02 L355.21,794.48 L359.02,794.95 L362.83,795.42 L366.64,795.90 L370.46,796.38 L374.27,796.87 L378.08,797.36 L381.89,797.86 L385.70,798.36 L389.51,798.87 L393.32,799.38 L397.13,799.90 L400.94,800.44 L404.75,801.02 L408.56,801.61 L412.37,802.19 L416.18,802.74 L420.00,803.22 L423.81,803.62 L427.62,803.98 L431.43,804.29 L435.24,804.59 L439.05,804.88 L442.86,805.18 L446.67,805.50 L450.48,805.87 L454.29,806.28 L458.10,806.75 L461.91,807.25 L465.72,807.79 L469.54,808.35 L473.35,808.94 L477.16,809.55 L480.97,810.17 L484.78,810.81 L488.59,811.50 L492.40,812.23 L496.21,813.00 L500.02,813.78 L503.83,814.56 L507.64,815.32 L511.45,816.05 L515.26,816.72 L519.08,817.36 L522.89,817.97 L526.70,818.56 L530.51,819.14 L534.32,819.71 L538.13,820.27 L541.94,820.85 L545.75,821.43" fill="none" stroke="#000" stroke-width="3.0" stroke-linejoin="round" stroke-linecap="butt"/>
<rect x="455.00" y="686.00" width="99.50" height="52.50" fill="#fff"/>
<rect x="244.70" y="682.60" width="311.10" height="301.80" fill="none" stroke="#000" stroke-width="2.2"/>
<text><tspan x="465.39" y="705.70" font-size="18.3" font-weight="bold">f = 1 MHz</tspan></text>
<text><tspan x="462.99" y="730.00" font-size="18.3" font-weight="bold">T</tspan><tspan x="474.17" y="733.00" font-size="12.6" font-weight="bold">a</tspan><tspan x="481.18" y="730.00" font-size="18.3" font-weight="bold"> = 25 °C</tspan></text>
<text transform="translate(229.40,990.00) scale(1.0,1.05) translate(-229.40,-990.00)"><tspan x="221.31" y="990.00" font-size="15.7" font-weight="bold">0</tspan></text>
<text transform="translate(229.40,959.82) scale(1.0,1.05) translate(-229.40,-959.82)"><tspan x="208.01" y="959.82" font-size="15.7" font-weight="bold">0.1</tspan></text>
<text transform="translate(229.40,929.64) scale(1.0,1.05) translate(-229.40,-929.64)"><tspan x="208.20" y="929.64" font-size="15.7" font-weight="bold">0.2</tspan></text>
<text transform="translate(229.40,899.46) scale(1.0,1.05) translate(-229.40,-899.46)"><tspan x="208.14" y="899.46" font-size="15.7" font-weight="bold">0.3</tspan></text>
<text transform="translate(229.40,869.28) scale(1.0,1.05) translate(-229.40,-869.28)"><tspan x="207.66" y="869.28" font-size="15.7" font-weight="bold">0.4</tspan></text>
<text transform="translate(229.40,839.10) scale(1.0,1.05) translate(-229.40,-839.10)"><tspan x="208.01" y="839.10" font-size="15.7" font-weight="bold">0.5</tspan></text>
<text transform="translate(229.40,808.92) scale(1.0,1.05) translate(-229.40,-808.92)"><tspan x="208.14" y="808.92" font-size="15.7" font-weight="bold">0.6</tspan></text>
<text transform="translate(229.40,778.74) scale(1.0,1.05) translate(-229.40,-778.74)"><tspan x="208.26" y="778.74" font-size="15.7" font-weight="bold">0.7</tspan></text>
<text transform="translate(229.40,748.56) scale(1.0,1.05) translate(-229.40,-748.56)"><tspan x="208.06" y="748.56" font-size="15.7" font-weight="bold">0.8</tspan></text>
<text transform="translate(229.40,718.38) scale(1.0,1.05) translate(-229.40,-718.38)"><tspan x="208.16" y="718.38" font-size="15.7" font-weight="bold">0.9</tspan></text>
<text transform="translate(229.40,688.20) scale(1.0,1.05) translate(-229.40,-688.20)"><tspan x="221.11" y="688.20" font-size="15.7" font-weight="bold">1</tspan></text>
<text transform="translate(244.10,1010.20) scale(1.0,1.05) translate(-244.10,-1010.20)"><tspan x="233.19" y="1010.20" font-size="15.7" font-weight="bold">0.1</tspan></text>
<text transform="translate(347.80,1010.20) scale(1.0,1.05) translate(-347.80,-1010.20)"><tspan x="343.43" y="1010.20" font-size="15.7" font-weight="bold">1</tspan></text>
<text transform="translate(451.50,1010.20) scale(1.0,1.05) translate(-451.50,-1010.20)"><tspan x="442.77" y="1010.20" font-size="15.7" font-weight="bold">10</tspan></text>
<text transform="translate(555.20,1010.20) scale(1.0,1.05) translate(-555.20,-1010.20)"><tspan x="542.10" y="1010.20" font-size="15.7" font-weight="bold">100</tspan></text>
<text><tspan x="291.99" y="1049.70" font-size="18.1" font-weight="bold">Reverse voltage</tspan></text>
<text><tspan x="444.38" y="1049.70" font-size="18.1" font-weight="bold">V</tspan><tspan x="456.45" y="1052.70" font-size="13.5" font-weight="bold">R</tspan></text>
<text><tspan x="485.20" y="1049.70" font-size="18.1" font-weight="bold">(V)</tspan></text>
<text transform="translate(178.20,947.00) rotate(-90)"><tspan x="-0.19" y="0.00" font-size="17.3" font-weight="bold">Total capacitance</tspan></text>
<text transform="translate(178.20,782.30) rotate(-90)"><tspan x="-0.71" y="0.00" font-size="17.3" font-weight="bold">C</tspan><tspan x="11.78" y="3.00" font-size="12.0" font-weight="bold">t</tspan></text>
<text transform="translate(178.20,746.00) rotate(-90)"><tspan x="-0.86" y="0.00" font-size="17.3" font-weight="bold">(pF)</tspan></text>
<line x1="771.28" y1="682.60" x2="771.28" y2="985.70" stroke="#000" stroke-width="2.0"/>
<line x1="823.57" y1="743.22" x2="823.57" y2="985.70" stroke="#000" stroke-width="2.0"/>
<line x1="875.85" y1="743.22" x2="875.85" y2="985.70" stroke="#000" stroke-width="2.0"/>
<line x1="928.13" y1="743.22" x2="928.13" y2="985.70" stroke="#000" stroke-width="2.0"/>
<line x1="980.41" y1="743.22" x2="980.41" y2="985.70" stroke="#000" stroke-width="2.0"/>
<line x1="719.00" y1="925.08" x2="1032.69" y2="925.08" stroke="#000" stroke-width="2.0"/>
<line x1="719.00" y1="864.46" x2="1032.69" y2="864.46" stroke="#000" stroke-width="2.0"/>
<line x1="719.00" y1="803.84" x2="1032.69" y2="803.84" stroke="#000" stroke-width="2.0"/>
<line x1="719.00" y1="743.22" x2="1032.69" y2="743.22" stroke="#000" stroke-width="2.0"/>
<path d="M719.00,803.84 L771.28,803.84 L980.41,985.70" fill="none" stroke="#000" stroke-width="3.0" stroke-linejoin="round" stroke-linecap="butt"/>
<rect x="719.00" y="682.60" width="313.69" height="303.10" fill="none" stroke="#000" stroke-width="2.2"/>
<rect x="803.9" y="683.6" width="228.79" height="59.62" fill="#fff" stroke="#000" stroke-width="2.0"/>
<text><tspan x="813.94" y="702.20" font-size="12.9" font-weight="bold">Mounted on a glass epoxy circuit</tspan></text>
<text><tspan x="813.95" y="718.40" font-size="12.9" font-weight="bold">board of 20 mm × 20 mm,</tspan></text>
<text><tspan x="813.94" y="734.80" font-size="12.9" font-weight="bold">Pad dimension of 4 mm × 4 mm.</tspan></text>
<text transform="translate(706.00,990.90) scale(1.0,1.05) translate(-706.00,-990.90)"><tspan x="697.91" y="990.90" font-size="15.7" font-weight="bold">0</tspan></text>
<text transform="translate(706.00,930.28) scale(1.0,1.05) translate(-706.00,-930.28)"><tspan x="689.18" y="930.28" font-size="15.7" font-weight="bold">50</tspan></text>
<text transform="translate(706.00,869.66) scale(1.0,1.05) translate(-706.00,-869.66)"><tspan x="680.45" y="869.66" font-size="15.7" font-weight="bold">100</tspan></text>
<text transform="translate(706.00,809.04) scale(1.0,1.05) translate(-706.00,-809.04)"><tspan x="680.45" y="809.04" font-size="15.7" font-weight="bold">150</tspan></text>
<text transform="translate(706.00,748.42) scale(1.0,1.05) translate(-706.00,-748.42)"><tspan x="680.45" y="748.42" font-size="15.7" font-weight="bold">200</tspan></text>
<text transform="translate(706.00,687.80) scale(1.0,1.05) translate(-706.00,-687.80)"><tspan x="680.45" y="687.80" font-size="15.7" font-weight="bold">250</tspan></text>
<text transform="translate(719.40,1009.50) scale(1.0,1.05) translate(-719.40,-1009.50)"><tspan x="715.03" y="1009.50" font-size="15.7" font-weight="bold">0</tspan></text>
<text transform="translate(771.68,1009.50) scale(1.0,1.05) translate(-771.68,-1009.50)"><tspan x="762.95" y="1009.50" font-size="15.7" font-weight="bold">25</tspan></text>
<text transform="translate(823.97,1009.50) scale(1.0,1.05) translate(-823.97,-1009.50)"><tspan x="815.23" y="1009.50" font-size="15.7" font-weight="bold">50</tspan></text>
<text transform="translate(876.25,1009.50) scale(1.0,1.05) translate(-876.25,-1009.50)"><tspan x="867.52" y="1009.50" font-size="15.7" font-weight="bold">75</tspan></text>
<text transform="translate(928.53,1009.50) scale(1.0,1.05) translate(-928.53,-1009.50)"><tspan x="915.43" y="1009.50" font-size="15.7" font-weight="bold">100</tspan></text>
<text transform="translate(980.81,1009.50) scale(1.0,1.05) translate(-980.81,-1009.50)"><tspan x="967.72" y="1009.50" font-size="15.7" font-weight="bold">125</tspan></text>
<text transform="translate(1033.10,1009.50) scale(1.0,1.05) translate(-1033.10,-1009.50)"><tspan x="1020.00" y="1009.50" font-size="15.7" font-weight="bold">150</tspan></text>
<text><tspan x="752.08" y="1048.80" font-size="17.0" font-weight="bold">Ambient temperature</tspan></text>
<text><tspan x="940.41" y="1048.80" font-size="17.0" font-weight="bold">T</tspan><tspan x="950.79" y="1052.00" font-size="12.8" font-weight="bold">a</tspan></text>
<text><tspan x="976.25" y="1048.80" font-size="17.0" font-weight="bold">(</tspan><tspan x="981.92" y="1048.80" font-size="14.5" font-weight="bold">°C</tspan><tspan x="998.19" y="1048.80" font-size="17.0" font-weight="bold">)</tspan></text>
<text transform="translate(660.00,952.30) rotate(-90)"><tspan x="-1.16" y="0.00" font-size="17.3" font-weight="bold">Power dissipation</tspan></text>
<text transform="translate(660.00,791.50) rotate(-90)"><tspan x="-1.16" y="0.00" font-size="17.3" font-weight="bold">P</tspan><tspan x="10.38" y="3.00" font-size="12.0" font-weight="bold">D</tspan></text>
<text transform="translate(660.00,753.10) rotate(-90)"><tspan x="-0.86" y="0.00" font-size="17.3" font-weight="bold">(mW)</tspan></text>
<text transform="translate(327.10,611.80) scale(1.0,1.11) translate(-327.10,-611.80)"><tspan x="325.76" y="611.80" font-size="20.0" font-weight="bold">Fig. 8.1</tspan></text>
<text transform="translate(417.40,611.80) scale(1.0,1.11) translate(-417.40,-611.80)"><tspan x="416.06" y="611.80" font-size="20.0" font-weight="bold">I</tspan></text>
<text transform="translate(421.90,614.50) scale(1.0,1.08) translate(-421.90,-614.50)"><tspan x="420.59" y="614.50" font-size="16.0" font-weight="normal">F</tspan></text>
<text transform="translate(436.80,611.80) scale(1.0,1.11) translate(-436.80,-611.80)"><tspan x="436.02" y="611.80" font-size="20.0" font-weight="bold">-</tspan></text>
<text transform="translate(450.30,611.80) scale(1.0,1.11) translate(-450.30,-611.80)"><tspan x="450.16" y="611.80" font-size="20.0" font-weight="bold">V</tspan></text>
<text transform="translate(464.50,614.50) scale(1.0,1.08) translate(-464.50,-614.50)"><tspan x="463.19" y="614.50" font-size="16.0" font-weight="normal">F</tspan></text>
<text transform="translate(806.20,611.70) scale(1.0,1.11) translate(-806.20,-611.70)"><tspan x="804.86" y="611.70" font-size="20.0" font-weight="bold">Fig. 8.2</tspan></text>
<text transform="translate(896.10,611.70) scale(1.0,1.11) translate(-896.10,-611.70)"><tspan x="894.76" y="611.70" font-size="20.0" font-weight="bold">I</tspan></text>
<text transform="translate(901.30,614.40) scale(1.0,1.08) translate(-901.30,-614.40)"><tspan x="899.99" y="614.40" font-size="16.0" font-weight="normal">R</tspan></text>
<text transform="translate(918.10,611.70) scale(1.0,1.11) translate(-918.10,-611.70)"><tspan x="917.32" y="611.70" font-size="20.0" font-weight="bold">-</tspan></text>
<text transform="translate(930.30,611.70) scale(1.0,1.11) translate(-930.30,-611.70)"><tspan x="930.16" y="611.70" font-size="20.0" font-weight="bold">V</tspan></text>
<text transform="translate(945.80,614.40) scale(1.0,1.08) translate(-945.80,-614.40)"><tspan x="944.49" y="614.40" font-size="16.0" font-weight="normal">R</tspan></text>
<text transform="translate(324.20,1079.30) scale(1.0,1.11) translate(-324.20,-1079.30)"><tspan x="322.86" y="1079.30" font-size="20.0" font-weight="bold">Fig. 8.3</tspan></text>
<text transform="translate(414.10,1079.30) scale(1.0,1.11) translate(-414.10,-1079.30)"><tspan x="413.28" y="1079.30" font-size="20.0" font-weight="bold">C</tspan></text>
<text transform="translate(427.00,1082.00) scale(1.0,1.08) translate(-427.00,-1082.00)"><tspan x="426.76" y="1082.00" font-size="16.0" font-weight="normal">t</tspan></text>
<text transform="translate(438.00,1079.30) scale(1.0,1.11) translate(-438.00,-1079.30)"><tspan x="437.22" y="1079.30" font-size="20.0" font-weight="bold">-</tspan></text>
<text transform="translate(449.60,1079.30) scale(1.0,1.11) translate(-449.60,-1079.30)"><tspan x="449.46" y="1079.30" font-size="20.0" font-weight="bold">V</tspan></text>
<text transform="translate(465.70,1082.00) scale(1.0,1.08) translate(-465.70,-1082.00)"><tspan x="464.39" y="1082.00" font-size="16.0" font-weight="normal">R</tspan></text>
<text transform="translate(804.20,1079.90) scale(1.0,1.11) translate(-804.20,-1079.90)"><tspan x="802.86" y="1079.90" font-size="20.0" font-weight="bold">Fig. 8.4</tspan></text>
<text transform="translate(894.70,1079.90) scale(1.0,1.11) translate(-894.70,-1079.90)"><tspan x="893.36" y="1079.90" font-size="20.0" font-weight="bold">P</tspan></text>
<text transform="translate(907.70,1082.60) scale(1.0,1.08) translate(-907.70,-1082.60)"><tspan x="906.39" y="1082.60" font-size="16.0" font-weight="normal">D</tspan></text>
<text transform="translate(924.80,1079.90) scale(1.0,1.11) translate(-924.80,-1079.90)"><tspan x="924.02" y="1079.90" font-size="20.0" font-weight="bold">-</tspan></text>
<text transform="translate(937.20,1079.90) scale(1.0,1.11) translate(-937.20,-1079.90)"><tspan x="936.98" y="1079.90" font-size="20.0" font-weight="bold">T</tspan></text>
<text transform="translate(950.90,1082.60) scale(1.0,1.08) translate(-950.90,-1082.60)"><tspan x="950.22" y="1082.60" font-size="16.0" font-weight="normal">a</tspan></text>
</svg>
<div class="note" style="left:159px;top:1155.5px;">Note:</div>
<div class="note" style="left:224.3px;top:1155.5px;width:896px;text-align:justify;text-align-last:left;">The above characteristics curves are presented for reference only and not guaranteed by production test, unless otherwise noted.</div>
</body></html>
